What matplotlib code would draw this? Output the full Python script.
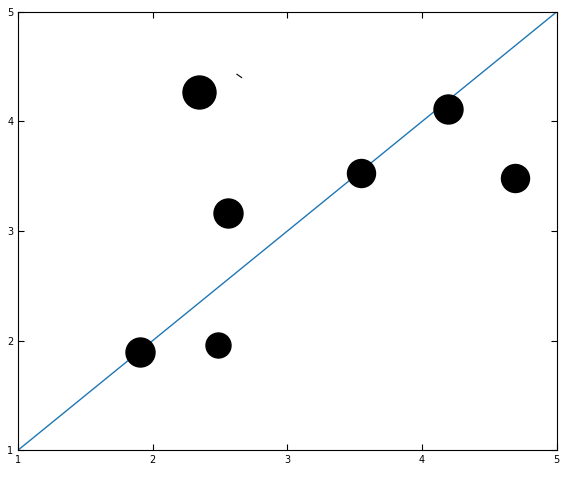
import matplotlib
matplotlib.use("Agg")
import matplotlib.pyplot as plt

# scatter points
xs = [2.34, 2.56, 1.905, 2.484, 3.545, 4.19, 4.69]
ys = [4.27, 3.16, 1.895, 1.96, 3.53, 4.11, 3.48]
sizes_px = [33, 29, 29, 25, 28, 29, 28]
line_x = [1, 5]
line_y = [1, 5]
ticks = [1, 2, 3, 4, 5]

fig = plt.figure(figsize=(5.83, 4.93), dpi=100)
ax = fig.add_axes([0.031, 0.087, 0.924, 0.889])
ax.plot(line_x, line_y, color="#1f77b4", lw=1)
for x, y, s in zip(xs, ys, sizes_px):
    ax.plot(x, y, "o", color="black", ms=s * 0.72)
ax.plot([2.625, 2.66], [4.43, 4.40], color="black", lw=0.8)
ax.set_xlim(1, 5); ax.set_ylim(1, 5)
ax.set_xticks(ticks); ax.set_yticks(ticks)
ax.tick_params(direction="in", top=True, right=True, labelsize=7, length=4)
for sp in ax.spines.values():
    sp.set_linewidth(0.8)
fig.savefig("out.png", dpi=100)
